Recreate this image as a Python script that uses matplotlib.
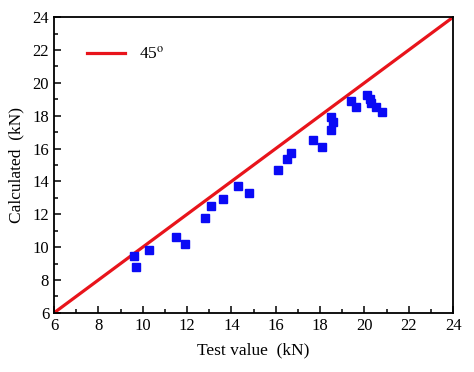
import numpy as np
import matplotlib.pyplot as plt
from matplotlib.ticker import MultipleLocator

plt.rcParams['font.family'] = ['Liberation Serif', 'DejaVu Serif']
plt.rcParams['mathtext.fontset'] = 'stix'

# test values vs calculated values (kN)
test_vals = [9.6, 9.7, 10.3, 11.5, 11.9, 12.8, 13.1, 13.6, 14.3, 14.8,
             16.1, 16.5, 16.7, 17.7, 18.1, 18.5, 18.6, 18.5, 19.4, 19.6,
             20.1, 20.25, 20.3, 20.5, 20.8]
calc_vals = [9.45, 8.8, 9.85, 10.6, 10.2, 11.75, 12.5, 12.9, 13.7, 13.3,
             14.7, 15.35, 15.75, 16.5, 16.1, 17.1, 17.6, 17.9, 18.9, 18.5,
             19.25, 19.0, 18.75, 18.5, 18.2]
ref_line = [6, 24]

fig = plt.figure(figsize=(4.74, 3.72), dpi=100)
ax = fig.add_axes([0.114, 0.159, 0.842, 0.795])

ax.plot(ref_line, ref_line, color='#e8141b', lw=2.3, label='45$^{\\rm o}$', zorder=2)
ax.plot(test_vals, calc_vals, 's', color='#0a0af5', ms=6, mec='#0a0af5', zorder=3)

ax.set_xlim(6, 24)
ax.set_ylim(6, 24)
ax.xaxis.set_major_locator(MultipleLocator(2))
ax.xaxis.set_minor_locator(MultipleLocator(1))
ax.yaxis.set_major_locator(MultipleLocator(2))
ax.yaxis.set_minor_locator(MultipleLocator(1))
ax.tick_params(which='both', direction='in', top=False, right=False, labelsize=12, width=1.1)
ax.tick_params(which='major', length=5)
ax.tick_params(which='minor', length=3)
for s in ax.spines.values():
    s.set_linewidth(1.3)

ax.set_xlabel('Test value  (kN)', fontsize=12.5, labelpad=6)
ax.set_ylabel('Calculated  (kN)', fontsize=12.5, labelpad=6)

ax.legend(loc='upper left', frameon=False, fontsize=12.5, handlelength=2.2,
          borderaxespad=0, bbox_to_anchor=(0.065, 0.925))

fig.savefig('out.png', dpi=100)
